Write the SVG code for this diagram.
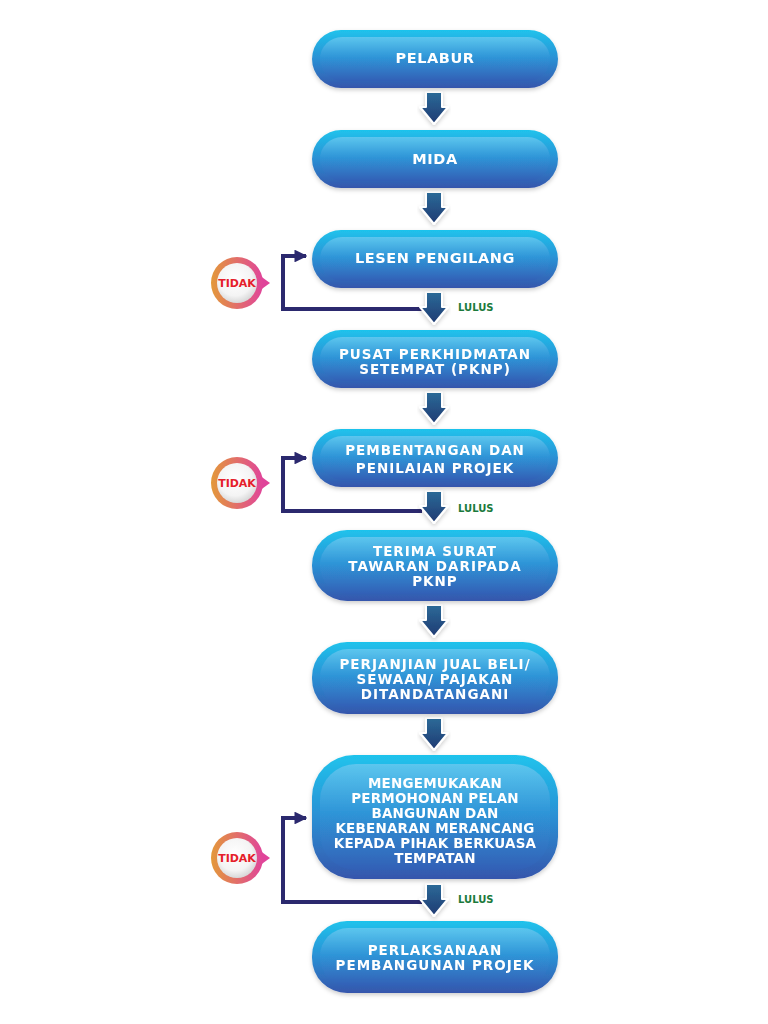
<svg xmlns="http://www.w3.org/2000/svg" width="768" height="1024" viewBox="0 0 768 1024">
<defs>
<linearGradient id="gOuter" x1="0" y1="0" x2="0" y2="1">
<stop offset="0" stop-color="#1fc3ec"/>
<stop offset="0.5" stop-color="#2a8fd4"/>
<stop offset="1" stop-color="#3556ac"/>
</linearGradient>
<linearGradient id="gInner" x1="0" y1="0" x2="0" y2="1">
<stop offset="0" stop-color="#5cc6ee"/>
<stop offset="0.45" stop-color="#2f96d8"/>
<stop offset="1" stop-color="#3160b6"/>
</linearGradient>
<linearGradient id="gArrow" x1="0" y1="0" x2="0" y2="1">
<stop offset="0" stop-color="#2c6a98"/>
<stop offset="1" stop-color="#1f3a72"/>
</linearGradient>
<linearGradient id="gRing" x1="0" y1="0" x2="1" y2="0">
<stop offset="0" stop-color="#e3993a"/>
<stop offset="1" stop-color="#e0449a"/>
</linearGradient>
<radialGradient id="gDisc" cx="0.45" cy="0.4" r="0.6">
<stop offset="0" stop-color="#ffffff"/>
<stop offset="0.7" stop-color="#f4f4f4"/>
<stop offset="1" stop-color="#d8d8d8"/>
</radialGradient>
<filter id="sh" x="-10%" y="-20%" width="120%" height="150%">
<feDropShadow dx="0" dy="2" stdDeviation="2" flood-color="#000" flood-opacity="0.2"/>
</filter>
<marker id="mh" viewBox="0 0 10 10" refX="9" refY="5" markerWidth="3.2" markerHeight="3.2" orient="auto" markerUnits="strokeWidth">
<path d="M0,0 L10,5 L0,10 Z" fill="#2b296e"/>
</marker>
<g id="dArrow">
<path d="M-8,0 H8 V15 H14 L0,32 L-14,15 H-8 Z" fill="url(#gArrow)" stroke="#ffffff" stroke-width="2" stroke-linejoin="round" filter="url(#sh)"/>
</g>
<g id="tidak">
<path d="M22,-8 L33,0 L22,8 Z" fill="#e0449a"/>
<circle r="26" fill="url(#gRing)"/>
<circle r="20" fill="url(#gDisc)"/>
<text x="0" y="4" class="td">TIDAK</text>
</g>
</defs>
<style>
.lbl{font-family:"DejaVu Sans","Open Sans",sans-serif;font-weight:bold;fill:#ffffff;text-anchor:middle;}
.s14{font-size:14.5px;letter-spacing:0.6px;}
.s13{font-size:13.5px;letter-spacing:1px;}
.s12{font-size:13.5px;letter-spacing:0.2px;}
.td{font-family:"DejaVu Sans","Liberation Sans",sans-serif;font-weight:bold;font-size:11px;fill:#e5202a;text-anchor:middle;}
.lulus{font-family:"DejaVu Sans","Liberation Sans",sans-serif;font-weight:bold;font-size:10px;fill:#1b7a3c;}
.loop{fill:none;stroke:#2b296e;stroke-width:4;}
.outer{fill:url(#gOuter);}
.inner{fill:url(#gInner);}
</style>
<rect width="768" height="1024" fill="#ffffff"/>

<g id="connectors">
<use href="#dArrow" x="434" y="92"/>
<use href="#dArrow" x="434" y="192"/>
<path class="loop" d="M422,309 H283 V256 H306" marker-end="url(#mh)"/>
<use href="#dArrow" x="434" y="292"/>
<use href="#dArrow" x="434" y="392"/>
<path class="loop" d="M422,511 H283 V458 H306" marker-end="url(#mh)"/>
<use href="#dArrow" x="434" y="491"/>
<use href="#dArrow" x="434" y="605"/>
<use href="#dArrow" x="434" y="718"/>
<path class="loop" d="M422,902 H283 V818 H306" marker-end="url(#mh)"/>
<use href="#dArrow" x="434" y="884"/>
<text class="lulus" x="458" y="311">LULUS</text>
<text class="lulus" x="458" y="512">LULUS</text>
<text class="lulus" x="458" y="903">LULUS</text>
</g>

<g id="tidak1"><use href="#tidak" x="237" y="283"/></g>
<g id="tidak2"><use href="#tidak" x="237" y="483"/></g>
<g id="tidak3"><use href="#tidak" x="237" y="858"/></g>

<g id="n1" filter="url(#sh)">
<rect class="outer" x="312" y="30" width="246" height="58" rx="29"/>
<rect class="inner" x="320" y="37" width="230" height="44" rx="22"/>
<text class="lbl s14" x="435" y="63">PELABUR</text>
</g>
<g id="n2" filter="url(#sh)">
<rect class="outer" x="312" y="130" width="246" height="58" rx="29"/>
<rect class="inner" x="320" y="137" width="230" height="44" rx="22"/>
<text class="lbl s14" x="435" y="164">MIDA</text>
</g>
<g id="n3" filter="url(#sh)">
<rect class="outer" x="312" y="230" width="246" height="58" rx="29"/>
<rect class="inner" x="320" y="237" width="230" height="44" rx="22"/>
<text class="lbl s14" x="435" y="263">LESEN PENGILANG</text>
</g>
<g id="n4" filter="url(#sh)">
<rect class="outer" x="312" y="330" width="246" height="58" rx="29"/>
<rect class="inner" x="320" y="337" width="230" height="44" rx="22"/>
<text class="lbl s13" x="435" y="359">PUSAT PERKHIDMATAN</text>
<text class="lbl s13" x="435" y="374">SETEMPAT (PKNP)</text>
</g>
<g id="n5" filter="url(#sh)">
<rect class="outer" x="312" y="429" width="246" height="58" rx="29"/>
<rect class="inner" x="320" y="436" width="230" height="44" rx="22"/>
<text class="lbl s13" x="435" y="455">PEMBENTANGAN DAN</text>
<text class="lbl s13" x="435" y="473">PENILAIAN PROJEK</text>
</g>
<g id="n6" filter="url(#sh)">
<rect class="outer" x="312" y="530" width="246" height="71" rx="35"/>
<rect class="inner" x="320" y="537" width="230" height="57" rx="28"/>
<text class="lbl s13" x="435" y="556">TERIMA SURAT</text>
<text class="lbl s13" x="435" y="571">TAWARAN DARIPADA</text>
<text class="lbl s13" x="435" y="586">PKNP</text>
</g>
<g id="n7" filter="url(#sh)">
<rect class="outer" x="312" y="642" width="246" height="72" rx="35"/>
<rect class="inner" x="320" y="649" width="230" height="58" rx="28"/>
<text class="lbl s13" x="435" y="669">PERJANJIAN JUAL BELI/</text>
<text class="lbl s13" x="435" y="684">SEWAAN/ PAJAKAN</text>
<text class="lbl s13" x="435" y="699">DITANDATANGANI</text>
</g>
<g id="n8" filter="url(#sh)">
<rect class="outer" x="312" y="755" width="246" height="124" rx="42"/>
<rect class="inner" x="320" y="764" width="230" height="106" rx="36"/>
<text class="lbl s12" x="435" y="788">MENGEMUKAKAN</text>
<text class="lbl s12" x="435" y="803">PERMOHONAN PELAN</text>
<text class="lbl s12" x="435" y="818">BANGUNAN DAN</text>
<text class="lbl s12" x="435" y="833">KEBENARAN MERANCANG</text>
<text class="lbl s12" x="435" y="848">KEPADA PIHAK BERKUASA</text>
<text class="lbl s12" x="435" y="863">TEMPATAN</text>
</g>
<g id="n9" filter="url(#sh)">
<rect class="outer" x="312" y="921" width="246" height="72" rx="35"/>
<rect class="inner" x="320" y="928" width="230" height="58" rx="28"/>
<text class="lbl s13" x="435" y="955">PERLAKSANAAN</text>
<text class="lbl s13" x="435" y="970">PEMBANGUNAN PROJEK</text>
</g>
</svg>
